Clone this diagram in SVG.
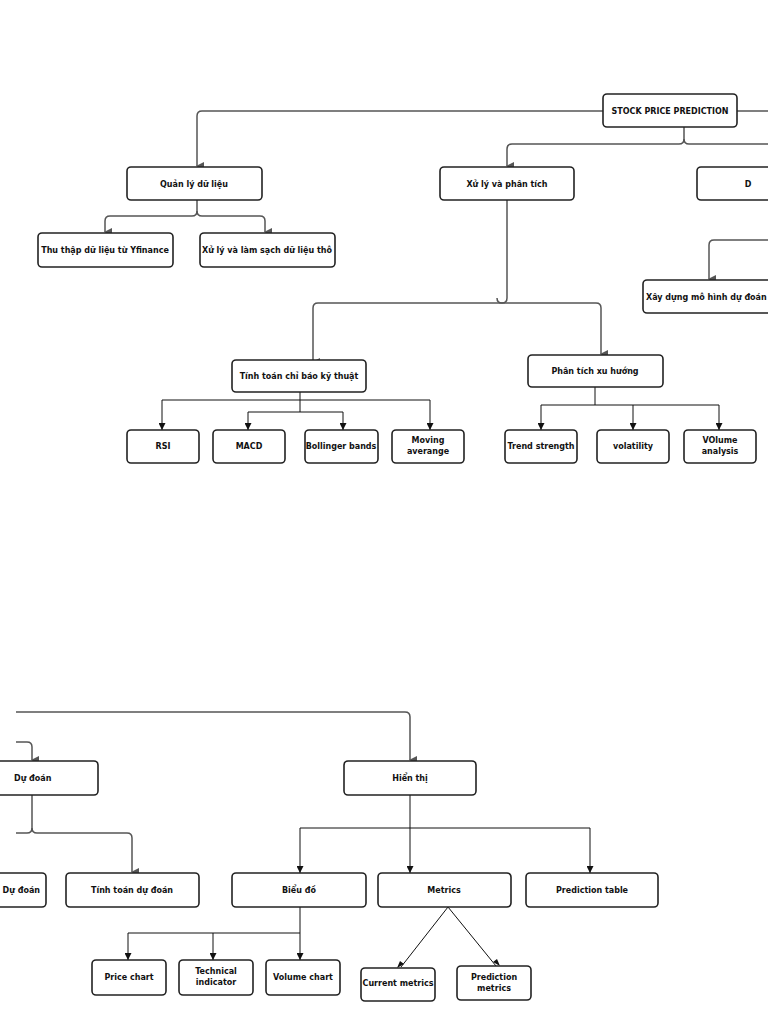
<svg xmlns="http://www.w3.org/2000/svg" width="768" height="1024" viewBox="0 0 768 1024">
<style>
.n rect{fill:#fff;stroke:#222;stroke-width:1.6}
.n text{font-family:"DejaVu Sans",sans-serif;font-weight:bold;font-size:8px;fill:#111;text-anchor:middle}
.g{fill:none;stroke:#555;stroke-width:1.5}
.k{fill:none;stroke:#111;stroke-width:1}
</style>
<defs>
<marker id="ag" markerWidth="8" markerHeight="8" refX="4" refY="7" orient="auto-start-reverse" markerUnits="userSpaceOnUse" viewBox="0 0 8 8"><path d="M0,0 L8,0 L4,8z" transform="rotate(0)" fill="#555"/></marker>
<marker id="ak" markerWidth="7" markerHeight="7" refX="3.5" refY="7" markerUnits="userSpaceOnUse" viewBox="0 0 7 7"><path d="M0,0 L7,0 L3.5,7z" fill="#111"/></marker>
<marker id="akd" markerWidth="7" markerHeight="7" refX="3.5" refY="7" orient="auto" markerUnits="userSpaceOnUse" viewBox="0 0 7 7"><path d="M0,0 L7,3.5 L0,7z" fill="#111" transform="rotate(-90 3.5 3.5) rotate(0)"/></marker>
</defs>
<rect width="768" height="1024" fill="#fff"/>
<g id="connectors">
<path class="g" d="M603,111 H202 Q197,111 197,116 V166" marker-end="url(#ag)"/>
<path class="g" d="M737,111 H768"/>
<path class="g" d="M684,127 V139 Q684,144 689,144 H768"/>
<path class="g" d="M684,139 Q684,144 679,144 H512 Q507,144 507,149 V166" marker-end="url(#ag)"/>
<path class="g" d="M197,200 V211 Q197,216 192,216 H110 Q105,216 105,221 V232" marker-end="url(#ag)"/>
<path class="g" d="M197,211 Q197,216 202,216 H260 Q265,216 265,221 V232" marker-end="url(#ag)"/>
<path class="g" d="M507,200 V298 Q507,303 502,303 H318 Q313,303 313,308 V362" marker-end="url(#ag)"/>
<path class="g" d="M497,298 Q497,303 502,303 H596 Q601,303 601,308 V354" marker-end="url(#ag)"/>
<path class="g" d="M768,240 H714 Q709,240 709,245 V279" marker-end="url(#ag)"/>
<path class="k" d="M300,392 V400 M162,400 H430"/>
<path class="k" d="M162,400 V430" marker-end="url(#ak)"/>
<path class="k" d="M430,400 V430" marker-end="url(#ak)"/>
<path class="k" d="M300,400 V412 M248,412 H343"/>
<path class="k" d="M248,412 V430" marker-end="url(#ak)"/>
<path class="k" d="M343,412 V430" marker-end="url(#ak)"/>
<path class="k" d="M595,387 V405 M541,405 H719"/>
<path class="k" d="M541,405 V430" marker-end="url(#ak)"/>
<path class="k" d="M633,405 V430" marker-end="url(#ak)"/>
<path class="k" d="M719,405 V430" marker-end="url(#ak)"/>
<path class="g" d="M16,712 H405 Q410,712 410,717 V760" marker-end="url(#ag)"/>
<path class="g" d="M16,742 H27 Q32,742 32,747 V760" marker-end="url(#ag)"/>
<path class="g" d="M32,795 V828 Q32,833 27,833 H16"/>
<path class="g" d="M32,828 Q32,833 37,833 H127 Q132,833 132,838 V872" marker-end="url(#ag)"/>
<path class="k" d="M410,795 V873" marker-end="url(#ak)"/>
<path class="k" d="M300,828 H590"/>
<path class="k" d="M300,828 V873" marker-end="url(#ak)"/>
<path class="k" d="M590,828 V873" marker-end="url(#ak)"/>
<path class="k" d="M300,907 V960" marker-end="url(#ak)"/>
<path class="k" d="M128,933 H300"/>
<path class="k" d="M128,933 V960" marker-end="url(#ak)"/>
<path class="k" d="M213,933 V960" marker-end="url(#ak)"/>
<path class="k" d="M448,907 L401,967 M448,907 L496,966"/>
<path d="M397,968 L400,961 L404,964z M500,966 L493,962 L497,959z" fill="#111"/>
</g>
<g id="root" class="n"><rect x="603" y="94" width="134" height="33" rx="4"/><text x="670" y="114">STOCK PRICE PREDICTION</text></g>
<g id="ql" class="n"><rect x="127" y="167" width="135" height="33" rx="4"/><text x="194" y="187">Quản lý dữ liệu</text></g>
<g id="xl" class="n"><rect x="440" y="167" width="134" height="33" rx="4"/><text x="507" y="187">Xử lý và phân tích</text></g>
<g id="dd1" class="n"><rect x="697" y="167" width="100" height="33" rx="4"/><text x="748" y="187">D</text></g>
<g id="tt" class="n"><rect x="38" y="233" width="135" height="34" rx="4"/><text x="105" y="253">Thu thập dữ liệu từ Yfinance</text></g>
<g id="lam" class="n"><rect x="200" y="233" width="135" height="34" rx="4"/><text x="267" y="253">Xử lý và làm sạch dữ liệu thô</text></g>
<g id="xd" class="n"><rect x="643" y="280" width="140" height="33" rx="4"/><text x="646" y="300" style="text-anchor:start">Xây dựng mô hình dự đoán</text></g>
<g id="tinh" class="n"><rect x="232" y="360" width="134" height="32" rx="4"/><text x="299" y="379">Tính toán chỉ báo kỹ thuật</text></g>
<g id="pt" class="n"><rect x="528" y="355" width="135" height="32" rx="4"/><text x="595" y="374">Phân tích xu hướng</text></g>
<g id="rsi" class="n"><rect x="127" y="430" width="72" height="33" rx="4"/><text x="163" y="449">RSI</text></g>
<g id="macd" class="n"><rect x="213" y="430" width="72" height="33" rx="4"/><text x="249" y="449">MACD</text></g>
<g id="boll" class="n"><rect x="305" y="430" width="73" height="33" rx="4"/><text x="341" y="449">Bollinger bands</text></g>
<g id="mov" class="n"><rect x="392" y="430" width="72" height="33" rx="4"/><text x="428" y="443">Moving</text><text x="428" y="454">averange</text></g>
<g id="trend" class="n"><rect x="505" y="430" width="72" height="33" rx="4"/><text x="541" y="449">Trend strength</text></g>
<g id="vol" class="n"><rect x="597" y="430" width="72" height="33" rx="4"/><text x="633" y="449">volatility</text></g>
<g id="vola" class="n"><rect x="684" y="430" width="72" height="33" rx="4"/><text x="720" y="443">VOlume</text><text x="720" y="454">analysis</text></g>
<g id="dd2" class="n"><rect x="-40" y="761" width="138" height="34" rx="4"/><text x="14" y="781" style="text-anchor:start">Dự đoán</text></g>
<g id="ht" class="n"><rect x="344" y="761" width="132" height="34" rx="4"/><text x="410" y="781">Hiển thị</text></g>
<g id="dd3" class="n"><rect x="-60" y="873" width="106" height="34" rx="4"/><text x="40" y="893" style="text-anchor:end">Dự đoán</text></g>
<g id="ttdd" class="n"><rect x="66" y="873" width="133" height="34" rx="4"/><text x="132" y="893">Tính toán dự đoán</text></g>
<g id="bd" class="n"><rect x="232" y="873" width="134" height="34" rx="4"/><text x="299" y="893">Biểu đồ</text></g>
<g id="met" class="n"><rect x="378" y="873" width="133" height="34" rx="4"/><text x="444" y="893">Metrics</text></g>
<g id="pred" class="n"><rect x="526" y="873" width="132" height="34" rx="4"/><text x="592" y="893">Prediction table</text></g>
<g id="price" class="n"><rect x="92" y="960" width="74" height="35" rx="4"/><text x="129" y="980">Price chart</text></g>
<g id="tech" class="n"><rect x="179" y="960" width="74" height="35" rx="4"/><text x="216" y="974">Technical</text><text x="216" y="985">indicator</text></g>
<g id="volc" class="n"><rect x="266" y="960" width="74" height="35" rx="4"/><text x="303" y="980">Volume chart</text></g>
<g id="cur" class="n"><rect x="361" y="968" width="74" height="33" rx="4"/><text x="398" y="986">Current metrics</text></g>
<g id="pm" class="n"><rect x="457" y="966" width="74" height="34" rx="4"/><text x="494" y="980">Prediction</text><text x="494" y="991">metrics</text></g>
</svg>
